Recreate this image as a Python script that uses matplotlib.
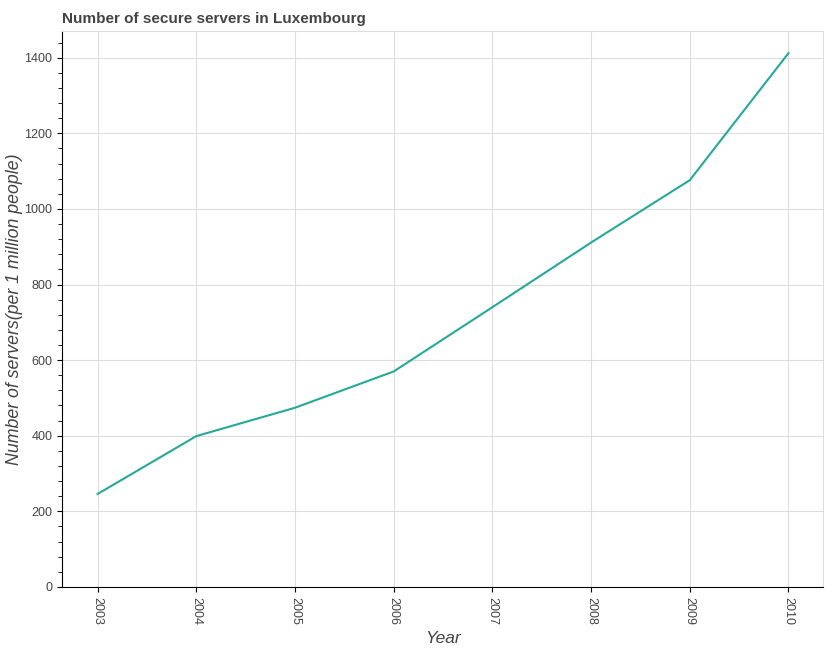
import matplotlib.pyplot as plt
from matplotlib.ticker import MultipleLocator

plt.rcParams['font.family'] = ['Liberation Sans', 'DejaVu Sans']

years = [2003, 2004, 2005, 2006, 2007, 2008, 2009, 2010]
servers = [246, 399, 474, 570, 740, 911, 1076, 1412]

fig = plt.figure(figsize=(8.28, 6.5), dpi=100)
ax = fig.add_axes([0.075, 0.097, 0.919, 0.855])

ax.plot(years, servers, color='#26a99a', lw=1.5)

ax.set_xlim(2002.64, 2010.35)
ax.set_ylim(0, 1470)
ax.set_xticks(years)
ax.set_xticklabels([str(y) for y in years], rotation=270)
ax.yaxis.set_major_locator(MultipleLocator(200))
ax.yaxis.set_minor_locator(MultipleLocator(40))

ax.grid(True, color='#dddddd', lw=0.8)
ax.set_axisbelow(True)

for side in ['top', 'right']:
    ax.spines[side].set_color('#dddddd')
for side in ['left', 'bottom']:
    ax.spines[side].set_color('black')

ax.tick_params(axis='both', colors='black', labelcolor='#444444', labelsize=9, direction='out')
ax.tick_params(axis='y', which='minor', length=3)

ax.set_title('Number of secure servers in Luxembourg', loc='left', fontsize=11,
             fontweight='bold', color='#444444', pad=6)
ax.set_xlabel('Year', fontsize=12.5, style='italic', color='#444444', va='center')
ax.set_ylabel('Number of servers(per 1 million people)', fontsize=12.8, style='italic',
              color='#444444', va='center')
ax.xaxis.set_label_coords(0.5, -0.092)
ax.yaxis.set_label_coords(-0.063, 0.5)

fig.savefig('out.png', dpi=100)
